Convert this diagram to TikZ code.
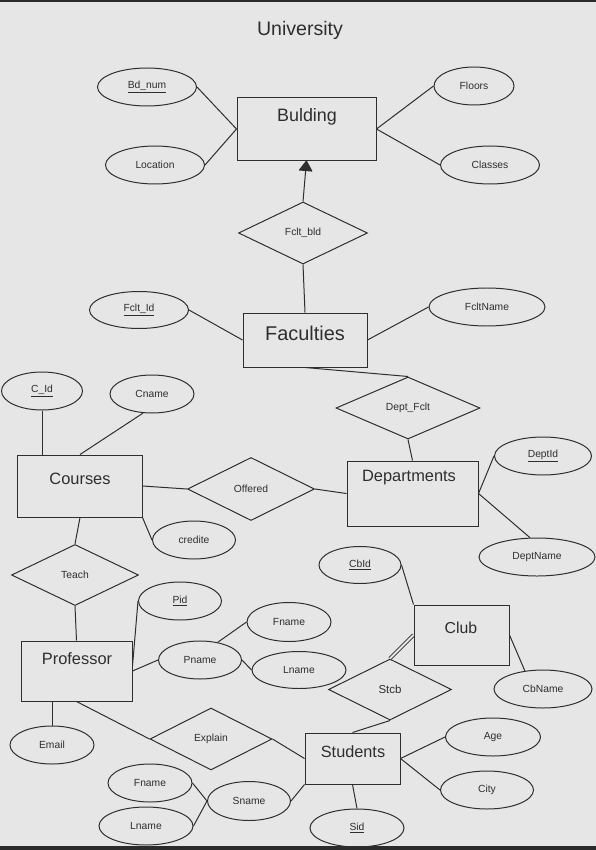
\documentclass[tikz,border=0pt]{standalone}
\usepackage{fontspec}
\setmainfont{Liberation Sans}
\usepackage{tikz}
\usepackage{xcolor}
\usetikzlibrary{shapes.geometric, arrows.meta, positioning}
\definecolor{ER_Bg}{HTML}{E6E6E6}
\definecolor{ER_Ink}{HTML}{2E2E2E}
\definecolor{ER_Bar}{HTML}{2B2B2B}

\begin{document}
\begin{tikzpicture}[x=0.03cm, y=-0.03cm,
    entity/.style={draw=ER_Ink, line width=0.85pt, rectangle, inner sep=0pt},
    etext/.style={text=ER_Ink, font=\fontsize{14}{16}\selectfont, inner sep=0pt},
    attr/.style={draw=ER_Ink, line width=0.85pt, ellipse, inner sep=0pt, minimum height=1.14cm, text=ER_Ink, font=\fontsize{8.8}{10}\selectfont},
    rel/.style={draw=ER_Ink, line width=0.85pt, diamond, inner sep=0pt, minimum height=1.86cm, text=ER_Ink, font=\fontsize{8.8}{10}\selectfont},
    link/.style={draw=ER_Ink, line width=0.85pt}]
    % Page
    \fill[ER_Bg] (0,0) rectangle (596,850);
    \useasboundingbox (0,0) rectangle (596,850);
    \fill[ER_Bar] (0,0) rectangle (596,2);
    \fill[ER_Bar] (0,846) rectangle (596,850);
    % Title
    \node[etext, font=\fontsize{16.7}{19}\selectfont] (title) at (300,30) {University};
    % Entities
    \node[entity, minimum width=4.17cm, minimum height=1.86cm] (bld) at (306.5,129) {};
    \node[etext, font=\fontsize{15.3}{18}\selectfont] (bldT) at (307,117) {Bulding};
    \node[entity, minimum width=3.72cm, minimum height=1.62cm] (fac) at (305,340) {};
    \node[etext, font=\fontsize{17}{20}\selectfont] (facT) at (305,333) {Faculties};
    \node[entity, minimum width=3.72cm, minimum height=1.86cm] (courses) at (80,486) {};
    \node[etext] (coursesT) at (80,479) {Courses};
    \node[entity, minimum width=3.93cm, minimum height=1.95cm] (dept) at (412.5,493.5) {};
    \node[etext] (deptT) at (409,478) {Departments};
    \node[entity, minimum width=3.33cm, minimum height=1.8cm] (prof) at (76.5,671) {};
    \node[etext] (profT) at (77,659) {Professor};
    \node[entity, minimum width=2.85cm, minimum height=1.8cm] (club) at (461.5,635) {};
    \node[etext, font=\fontsize{13.5}{16}\selectfont] (clubT) at (461,628) {Club};
    \node[entity, minimum width=2.85cm, minimum height=1.53cm] (stud) at (352.5,758.5) {};
    \node[etext, font=\fontsize{13.9}{16}\selectfont] (studT) at (353,752) {Students};
    % Relationships
    \node[rel, minimum width=3.87cm] (fcltbld) at (303,233) {Fclt\_bld};
    \node[rel, minimum width=4.32cm] (deptfclt) at (408,408) {Dept\_Fclt};
    \node[rel, minimum width=3.81cm, minimum height=1.89cm] (offered) at (251,489) {Offered};
    \node[rel, minimum width=3.81cm, minimum height=1.83cm] (teach) at (75,575) {Teach};
    \node[rel, minimum width=3.69cm, minimum height=1.83cm, font=\fontsize{9.8}{11}\selectfont] (stcb) at (390,689.5) {Stcb};
    \node[rel, minimum width=3.66cm] (explain) at (211,739) {Explain};
    % Attributes
    \node[attr, minimum width=2.97cm] (bdnum) at (147,87) {\underline{Bd\_num}};
    \node[attr, minimum width=2.97cm] (location) at (155,165) {Location};
    \node[attr, minimum width=2.4cm] (floors) at (474,86) {Floors};
    \node[attr, minimum width=2.97cm] (classes) at (490,165) {Classes};
    \node[attr, minimum width=2.97cm, minimum height=1.11cm] (fcltid) at (139,310) {\underline{Fclt\_Id}};
    \node[attr, minimum width=3.48cm] (fcltname) at (487,307) {FcltName};
    \node[attr, minimum width=2.43cm] (cid) at (42,391) {\underline{C\_Id}};
    \node[attr, minimum width=2.52cm] (cname) at (152,394) {Cname};
    \node[attr, minimum width=2.91cm] (deptid) at (543,456) {\underline{DeptId}};
    \node[attr, minimum width=3.48cm] (deptname) at (537,557) {DeptName};
    \node[attr, minimum width=2.49cm] (credite) at (194,540) {credite};
    \node[attr, minimum width=2.46cm, minimum height=1.11cm] (cbid) at (360,565) {\underline{CbId}};
    \node[attr, minimum width=2.49cm] (pid) at (180,601) {\underline{Pid}};
    \node[attr, minimum width=2.49cm] (pname) at (200,660) {Pname};
    \node[attr, minimum width=2.52cm, minimum height=1.17cm] (pfname) at (289,622) {Fname};
    \node[attr, minimum width=2.82cm, minimum height=1.11cm] (plname) at (299,670) {Lname};
    \node[attr, minimum width=2.94cm] (cbname) at (543,689) {CbName};
    \node[attr, minimum width=2.52cm] (email) at (52,745) {Email};
    \node[attr, minimum width=2.85cm] (age) at (493,737) {Age};
    \node[attr, minimum width=2.79cm] (city) at (487,790) {City};
    \node[attr, minimum width=2.82cm] (sid) at (357,828) {\underline{Sid}};
    \node[attr, minimum width=2.49cm, minimum height=1.17cm] (sname) at (249,801) {Sname};
    \node[attr, minimum width=2.52cm] (sfname) at (150,783) {Fname};
    \node[attr, minimum width=2.82cm] (slname) at (146,826) {Lname};
    % Lines
    \draw[link] (bdnum.east) -- (bld.west); \draw[link] (location.east) -- (bld.west);
    \draw[link] (floors.west) -- (bld.east); \draw[link] (classes.west) -- (bld.east);
    \draw[link, -{Triangle[width=0.42cm, length=0.33cm, round]}] (fcltbld.north) -- (bld.south);
    \draw[link] (fcltbld.south) -- (fac.north);
    \draw[link] (fcltid.east) -- (fac.west); \draw[link] (fcltname.west) -- (fac.east);
    \draw[link] (fac.south) -- (deptfclt.north); \draw[link] (deptfclt.south) -- (dept.north);
    \draw[link] (cid.south) -- (cid.south |- courses.north); \draw[link] (cname.245) -- (courses.north);
    \draw[link] (courses.east) -- (offered.west); \draw[link] (offered.east) -- (dept.west);
    \draw[link] (deptid.west) -- (dept.east); \draw[link] (dept.east) -- (deptname.110);
    \draw[link] (courses.south east) -- (credite.west);
    \draw[link] (courses.south) -- (teach.north); \draw[link] (teach.south) -- (prof.north);
    \draw[link] (pid.west) -- ([yshift=0.15cm]prof.east); \draw[link] (prof.east) -- (pname.west);
    \draw[link] (pname.45) -- (pfname.west); \draw[link] (pname.east) -- (plname.west);
    \draw[link] (email.north) -- (email.north |- prof.south);
    \draw[link] (prof.south) -- (explain.west); \draw[link] (explain.east) -- (stud.west);
    \draw[link] (cbid.east) -- (club.north west); \draw[link] (club.east) -- (cbname.135);
    \draw[link, double=ER_Bg, double distance=1.6pt] (stcb.north) -- (club.west);
    \draw[link] (stcb.south) -- (stud.north);
    \draw[link] (stud.east) -- (age.west); \draw[link] (stud.east) -- (city.west);
    \draw[link] (stud.south) -- (sid.north); \draw[link] (sname.east) -- (stud.south west);
    \draw[link] (sfname.east) -- (sname.west); \draw[link] (slname.east) -- (sname.west);
\end{tikzpicture}
\end{document}
